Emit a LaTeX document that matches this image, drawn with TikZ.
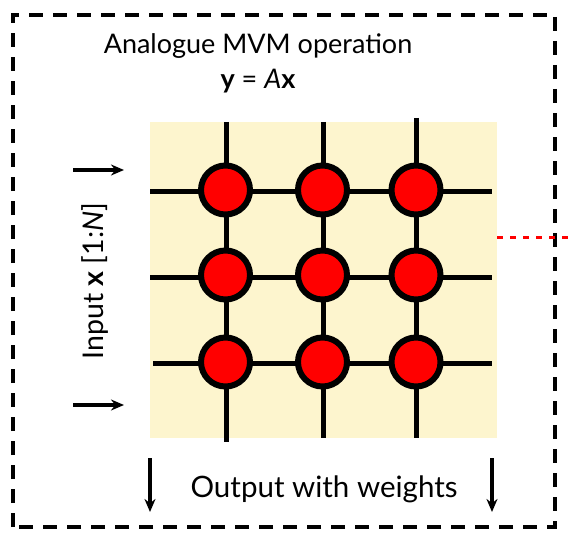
\documentclass[tikz,border=0pt]{standalone}
\usepackage{fontspec}
\setmainfont{Lato}
\usetikzlibrary{arrows.meta}
\definecolor{cream}{HTML}{FDF5CE}
\definecolor{dotred}{HTML}{FF0000}
\begin{document}
\begin{tikzpicture}[x=1pt,y=-1pt,
  wire/.style={line width=5pt},
  cell/.style={circle,draw=black,fill=dotred,line width=6pt,minimum size=49pt,inner sep=0pt},
  flow/.style={line width=3.2pt,-{Stealth[length=13pt,width=11pt]}},
  lbl/.style={font=\fontsize{27}{30}\selectfont,inner sep=0pt}]
\useasboundingbox (0,0) rectangle (571,543);
\draw[line width=4pt,dash pattern=on 14pt off 10pt] (13,527) -- (13,15) -- (555,15) -- (555,527) -- cycle;
\node[lbl] (t1) at (258,46) {Analogue MVM operation};
\node[lbl] (t2) at (258,81) {\textbf{y} = \textit{A}\textbf{x}};
\fill[cream] (150,122) rectangle (497,438);
\coordinate (r1) at (150,191); \coordinate (r1e) at (492,191);
\coordinate (r2) at (150,277); \coordinate (r2e) at (492,277);
\coordinate (r3) at (153,363); \coordinate (r3e) at (492,363);
\coordinate (c1) at (226,122); \coordinate (c1e) at (226,442);
\coordinate (c2) at (323,122); \coordinate (c2e) at (323,438);
\coordinate (c3) at (416,118); \coordinate (c3e) at (416,438);
\draw[wire] (r1) -- (r1e) (r2) -- (r2e) (r3) -- (r3e);
\draw[wire] (c1) -- (c1e) (c2) -- (c2e) (c3) -- (c3e);
\foreach \i/\y in {1/190,2/275,3/362}{
  \node[cell] (n\i1) at (225.5,\y) {};
  \node[cell] (n\i2) at (322.5,\y) {};
  \node[cell] (n\i3) at (416,\y) {};
}
\coordinate (a1s) at (73,170); \coordinate (a1e) at (124,170);
\coordinate (a2s) at (73,405); \coordinate (a2e) at (124,405);
\draw[flow] (a1s) -- (a1e);
\draw[flow] (a2s) -- (a2e);
\node[lbl,rotate=90,font=\fontsize{28.5}{30}\selectfont] (inp) at (95,281) {Input \textbf{x} [1:\textit{N}]};
\coordinate (o1s) at (150,458); \coordinate (o1e) at (150,512);
\coordinate (o2s) at (492,458); \coordinate (o2e) at (492,512);
\draw[flow] (o1s) -- (o1e);
\draw[flow] (o2s) -- (o2e);
\node[lbl,font=\fontsize{29.5}{30}\selectfont] (out) at (324,489) {Output with weights};
\coordinate (d1) at (497,237); \coordinate (d2) at (571,237);
\draw[dotred,line width=3pt,dash pattern=on 6pt off 7pt] (d1) -- (d2);
\end{tikzpicture}
\end{document}
